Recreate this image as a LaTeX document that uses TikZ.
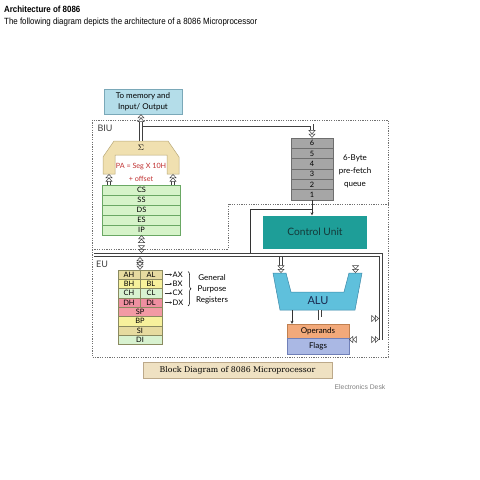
\documentclass[tikz,border=0pt]{standalone}
\usepackage{fontspec}
\setmainfont{Lato}
\newfontfamily\titlefont[FakeStretch=0.88]{Liberation Sans}
\newfontfamily\capfont{DejaVu Serif}
\newfontfamily\credfont{Liberation Sans}
\usetikzlibrary{arrows.meta,decorations.pathreplacing,calc}
\definecolor{memfill}{HTML}{B4DDE9}\definecolor{memdraw}{HTML}{7AA8B8}
\definecolor{sigfill}{HTML}{F0E0B0}\definecolor{sigdraw}{HTML}{B8A878}
\definecolor{segfill}{HTML}{D6F3C9}\definecolor{segdraw}{HTML}{6AA864}
\definecolor{qfill}{HTML}{A6A6A6}\definecolor{qdraw}{HTML}{6E6E6E}
\definecolor{cufill}{HTML}{1E9E98}\definecolor{cutext}{HTML}{143838}
\definecolor{alufill}{HTML}{5FC0DC}\definecolor{aludraw}{HTML}{3C88A8}\definecolor{alutext}{HTML}{1A2A50}
\definecolor{opfill}{HTML}{F2A97A}\definecolor{opdraw}{HTML}{C08050}
\definecolor{flfill}{HTML}{AAB8E4}\definecolor{fldraw}{HTML}{7080B8}
\definecolor{rtan}{HTML}{E6DBA0}\definecolor{ryel}{HTML}{F7F19C}\definecolor{rgrn}{HTML}{D8F2D0}
\definecolor{rpnk}{HTML}{EE8FA0}\definecolor{rsp}{HTML}{F29AA4}\definecolor{rdraw}{HTML}{8A8A60}
\definecolor{capfill}{HTML}{EFE1C2}\definecolor{capdraw}{HTML}{BCA98A}
\definecolor{pared}{HTML}{C03030}\definecolor{dashc}{HTML}{707070}
\tikzset{
  holn/.style={draw=black!75, line width=0.5pt, double=white, double distance=2.3pt},
  htip/.style={draw=black!75, line width=0.5pt, dash pattern=on 0pt off 5000pt},
  hol/.style={preaction={holn, shorten >=3.6pt}, htip,
    -{Triangle[fill=white,length=4pt,width=7pt]}},
  holb/.style={preaction={holn, shorten >=3.6pt, shorten <=3.6pt}, htip,
    {Triangle[fill=white,length=4pt,width=7pt]}-{Triangle[fill=white,length=4pt,width=7pt]}},
  thinar/.style={draw=black!80, line width=0.6pt, -{Stealth[length=3pt,width=3pt]}},
  reg/.style={draw=rdraw, line width=0.4pt, minimum height=9.3pt, inner sep=0pt, font=\fontsize{7.4}{8}\selectfont},
  seg/.style={draw=segdraw, fill=segfill, line width=0.4pt, minimum width=78pt, minimum height=10pt, inner sep=0pt, font=\fontsize{7.4}{8}\selectfont},
  qcell/.style={draw=qdraw, fill=qfill, line width=0.4pt, minimum width=42pt, minimum height=10.3pt, inner sep=0pt, font=\fontsize{7.4}{8}\selectfont},
  bnd/.style={draw=dashc, line width=0.6pt, dash pattern=on 1.2pt off 1.2pt},
  lbl/.style={font=\fontsize{7.6}{8}\selectfont, inner sep=0.5pt, anchor=west},
}
\begin{document}
\begin{tikzpicture}[x=1pt,y=-1pt]
\useasboundingbox (0,0) rectangle (480,480);
\fill[white] (0,0) rectangle (480,480);
% titles
\node[anchor=west, inner sep=0pt, font=\titlefont\bfseries\fontsize{9}{10}\selectfont] (title) at (4,9) {Architecture of 8086};
\node[anchor=west, inner sep=0pt, font=\titlefont\fontsize{9}{10}\selectfont] (subtitle) at (4,22) {The following diagram depicts the architecture of a 8086 Microprocessor};
% boundaries
\draw[bnd] (92,120) rectangle (388,357);
\draw[bnd] (92,249) -- (228,249) -- (228,204) -- (388,204);
\node[font=\fontsize{9}{10}\selectfont, text=black!75, inner sep=0pt] (biu) at (105,128.5) {BIU};
\node[font=\fontsize{9}{10}\selectfont, text=black!75, inner sep=0pt] (eu) at (102,264) {EU};
% memory box
\node[draw=memdraw, fill=memfill, minimum width=78pt, minimum height=25pt, inner sep=0pt, align=center, font=\fontsize{8}{10.5}\selectfont] (mem) at (143,101.5) {To memory and\\Input/ Output};
% sigma adder
\draw[draw=sigdraw, fill=sigfill, line width=0.5pt] (114,141) -- (168,141) -- (179,157) -- (179,174) -- (167,174) -- (167,155) -- (115,155) -- (115,174) -- (103,174) -- (103,157) -- cycle;
\node[font=\fontsize{8.5}{9}\selectfont, inner sep=0pt] (sig) at (141,148) {$\Sigma$};
\coordinate (sigtop) at (141,141);
\coordinate (sigl) at (109,174);
\coordinate (sigr) at (173,174);
\node[text=pared, font=\fontsize{7.2}{8}\selectfont, inner sep=0pt] (pa) at (141,166.5) {PA = Seg X 10H};
\node[text=pared, font=\fontsize{7.2}{8}\selectfont, inner sep=0pt] (off) at (141,179) {+ offset};
% segment registers
\node[seg] (cs) at (141.5,190) {CS};
\node[seg] (ss) at (141.5,200) {SS};
\node[seg] (ds) at (141.5,210) {DS};
\node[seg] (es) at (141.5,220) {ES};
\node[seg] (ip) at (141.5,230) {IP};
% queue
\node[qcell] (q6) at (312,143.15) {6};
\node[qcell] (q5) at (312,153.45) {5};
\node[qcell] (q4) at (312,163.75) {4};
\node[qcell] (q3) at (312,174.05) {3};
\node[qcell] (q2) at (312,184.35) {2};
\node[qcell] (q1) at (312,194.65) {1};
\node[align=center, font=\fontsize{8}{13}\selectfont, inner sep=0pt] (qlbl) at (355,171) {6-Byte\\pre-fetch\\queue};
% control unit
\node[fill=cufill, minimum width=104pt, minimum height=33pt, inner sep=0pt, text=cutext, font=\fontsize{10.2}{11}\selectfont] (cu) at (315,232) {Control Unit};
% bus coordinates
\coordinate (busL) at (94,255);
\coordinate (busR) at (381,255);
\coordinate (busB) at (381,340);
\coordinate (busIP) at (141.5,253);
\coordinate (busGP) at (140,257);
\coordinate (alul) at (281,273);
\coordinate (alur) at (355.5,273);
\coordinate (busal) at (281,257);
\coordinate (busar) at (355.5,257);
% GP registers
\node[reg, fill=rtan, minimum width=22pt] (ah) at (129,274.65) {AH};
\node[reg, fill=rtan, minimum width=22pt] (al) at (151,274.65) {AL};
\node[reg, fill=ryel, minimum width=22pt] (bh) at (129,283.95) {BH};
\node[reg, fill=ryel, minimum width=22pt] (bl) at (151,283.95) {BL};
\node[reg, fill=rgrn, minimum width=22pt] (ch) at (129,293.25) {CH};
\node[reg, fill=rgrn, minimum width=22pt] (cl) at (151,293.25) {CL};
\node[reg, fill=rpnk, minimum width=22pt] (dh) at (129,302.55) {DH};
\node[reg, fill=rpnk, minimum width=22pt] (dl) at (151,302.55) {DL};
\node[reg, fill=rsp, minimum width=44pt] (sp) at (140,311.85) {SP};
\node[reg, fill=ryel, minimum width=44pt] (bp) at (140,321.15) {BP};
\node[reg, fill=rtan, minimum width=44pt] (si) at (140,330.45) {SI};
\node[reg, fill=rgrn, minimum width=44pt] (di) at (140,339.75) {DI};
\node[lbl] (ax) at (172,274.65) {AX};
\node[lbl] (bx) at (172,283.95) {BX};
\node[lbl] (cx) at (172,293.25) {CX};
\node[lbl] (dx) at (172,302.55) {DX};
\foreach \r/\t in {al/ax,bl/bx,cl/cx,dl/dx}
  \draw[draw=black!80, line width=0.5pt, -{Stealth[length=2.2pt,width=2.4pt]}] ([xshift=2.5pt]\r.east) -- (\t.west);
\coordinate (brtop) at (188,271.5);
\coordinate (brbot) at (188,306);
\draw[line width=0.5pt, decorate, decoration={brace, amplitude=3pt}] (brtop) -- (brbot);
\node[align=center, font=\fontsize{8}{11}\selectfont, inner sep=0pt] (gpr) at (212,289) {General\\Purpose\\Registers};
% ALU
\draw[draw=aludraw, fill=alufill, line width=0.5pt] (273,273) -- (286,273) -- (291,292) -- (344,292) -- (349,273) -- (362,273) -- (355,310) -- (280,310) -- cycle;
\node[text=alutext, font=\fontsize{11}{12}\selectfont, inner sep=0pt] (alu) at (318,301) {ALU};
\coordinate (alub1) at (292,310);
\coordinate (alub2) at (320,310);
\coordinate (aluturn) at (320,318.5);
\coordinate (aluout) at (379,318.5);
% operands & flags
\node[draw=opdraw, fill=opfill, minimum width=62pt, minimum height=14pt, inner sep=0pt, font=\fontsize{8}{9}\selectfont] (opnd) at (318,331) {Operands};
\node[draw=fldraw, fill=flfill, minimum width=62pt, minimum height=16pt, inner sep=0pt, font=\fontsize{8}{9}\selectfont] (flags) at (318,346) {Flags};
\coordinate (flagsE) at (349,339.5);
\coordinate (busF) at (379,339.5);
% hollow connectors
\draw[holn] (busL) -- (busR) -- (busB);
\draw[hol] (sigtop |- mem.south) ++(0,11) -| (q6.north);
\draw[hol] (sigtop) -- (sigtop |- mem.south);
\draw[hol] (cs.north -| sigl) -- (sigl);
\draw[hol] (cs.north -| sigr) -- (sigr);
\draw[holb] (ip.south) -- (busIP);
\draw[holb] (busGP) -- (busGP |- ah.north);
\draw[hol] (busal) -- (alul);
\draw[hol] (busar) -- (alur);
\draw[hol] (alub2) -- (aluturn) -- (aluout);
\draw[holb] (flagsE) -- (busF);
% thin connectors
\coordinate (qj) at (312,209);
\coordinate (cuj) at (250,209);
\coordinate (cub) at (250,253);
\draw[thinar] (q1.south) -- (cu.north -| q1.south);
\draw[draw=black!80, line width=0.6pt] (qj) -- (cuj) -- (cub);
\draw[thinar] (alub1) -- (alub1 |- opnd.north);
% caption
\node[draw=capdraw, fill=capfill, minimum width=189pt, minimum height=16pt, inner sep=0pt, font=\capfont\fontsize{7.8}{9}\selectfont] (cap) at (237.5,370) {Block Diagram of 8086 Microprocessor};
\node[text=black!50, font=\credfont\fontsize{6.8}{8}\selectfont, inner sep=0pt] (cred) at (360,387) {Electronics Desk};
\end{tikzpicture}
\end{document}
